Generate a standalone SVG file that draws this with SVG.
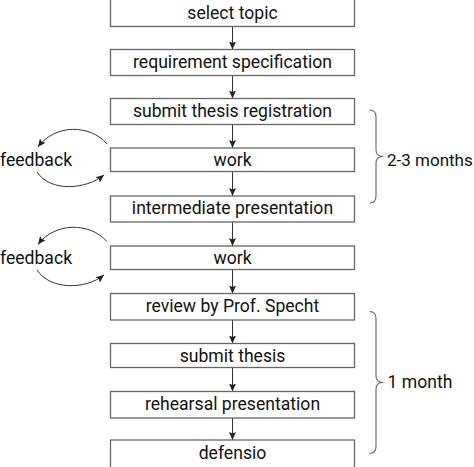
<svg xmlns="http://www.w3.org/2000/svg" width="474" height="467" viewBox="0 0 474 467">
<defs>
<marker id="ah" markerUnits="userSpaceOnUse" markerWidth="9" markerHeight="7" refX="8" refY="3.5" orient="auto">
<path d="M0,0 L8,3.5 L0,7 L1.5,3.5 z" fill="#222"/>
</marker>
<style>
.box{fill:#fff;stroke:#666;stroke-width:1.3}
.t{font-family:Roboto,"Liberation Sans",sans-serif;font-size:17.6px;fill:#111;text-anchor:middle}
.l{font-family:Roboto,"Liberation Sans",sans-serif;font-size:17.6px;fill:#111}
.c{fill:none;stroke:#333;stroke-width:1}
.br{fill:none;stroke:#666;stroke-width:1.1}
</style>
</defs>
<rect width="474" height="467" fill="#fff"/>
<g id="connectors">
<path class="c" d="M232.5,26.5 V49.5" marker-end="url(#ah)"/>
<path class="c" d="M232.5,75.5 V98.5" marker-end="url(#ah)"/>
<path class="c" d="M232.5,124.5 V148" marker-end="url(#ah)"/>
<path class="c" d="M232.5,171.5 V196" marker-end="url(#ah)"/>
<path class="c" d="M232.5,222 V246" marker-end="url(#ah)"/>
<path class="c" d="M232.5,269.5 V293.5" marker-end="url(#ah)"/>
<path class="c" d="M232.5,320 V343.5" marker-end="url(#ah)"/>
<path class="c" d="M232.5,367.5 V391.5" marker-end="url(#ah)"/>
<path class="c" d="M232.5,418 V440" marker-end="url(#ah)"/>
<path class="c" d="M107,144 C90,124 55,124 38,147" marker-end="url(#ah)"/>
<path class="c" d="M37,172 C50,192 85,190 104,175" marker-end="url(#ah)"/>
<path class="c" d="M107,241.7 C90,222 55,222 38,244.5" marker-end="url(#ah)"/>
<path class="c" d="M37,270 C50,290 85,290 104,275" marker-end="url(#ah)"/>
</g>
<g id="n1"><rect class="box" x="110.5" y="-2" width="244" height="28.5"/><text class="t" x="232.5" y="18.5">select topic</text></g>
<g id="n2"><rect class="box" x="110.5" y="49.5" width="244" height="26"/><text class="t" x="232.5" y="67.8">requirement specification</text></g>
<g id="n3"><rect class="box" x="110.5" y="98.5" width="244" height="26"/><text class="t" x="232.5" y="116.8">submit thesis registration</text></g>
<g id="n4"><rect class="box" x="110.5" y="148" width="244" height="23.5"/><text class="t" x="232.5" y="166.2">work</text></g>
<g id="n5"><rect class="box" x="110.5" y="196" width="244" height="26"/><text class="t" x="232.5" y="214.3">intermediate presentation</text></g>
<g id="n6"><rect class="box" x="110.5" y="246" width="244" height="23.5"/><text class="t" x="232.5" y="264.2">work</text></g>
<g id="n7"><rect class="box" x="110.5" y="293.5" width="244" height="26.5"/><text class="t" x="232.5" y="311.8">review by Prof. Specht</text></g>
<g id="n8"><rect class="box" x="110.5" y="343.5" width="244" height="24"/><text class="t" x="232.5" y="361.8">submit thesis</text></g>
<g id="n9"><rect class="box" x="110.5" y="391.5" width="244" height="26.5"/><text class="t" x="232.5" y="410.2">rehearsal presentation</text></g>
<g id="n10"><rect class="box" x="110.5" y="440" width="244" height="32"/><text class="t" x="232.5" y="458.7">defensio</text></g>
<g id="fb1"><text class="l" x="0" y="166.2">feedback</text></g>
<g id="fb2"><text class="l" x="0" y="264.2">feedback</text></g>
<g id="brace1"><path class="br" d="M369.5,110 Q376,110 376,117 L376,150 Q376,156.5 383.3,156.5 Q376,156.5 376,163 L376,196 Q376,203 369.5,203"/><text class="l" x="387" y="166.2" style="font-size:17px">2-3 months</text></g>
<g id="brace2"><path class="br" d="M369.5,311.5 Q376,311.5 376,318.5 L376,376 Q376,382.5 383.3,382.5 Q376,382.5 376,389 L376,446.5 Q376,453.5 369.5,453.5"/><text class="l" x="387.5" y="388.3">1 month</text></g>
</svg>
